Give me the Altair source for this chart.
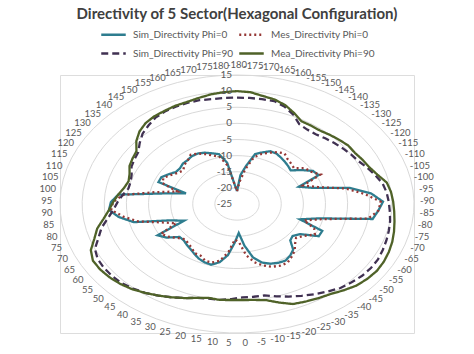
import altair as alt
import pandas as pd

categories = list(range(-180, 181, 5))

sim_phi0 = [-21, -16, -13, -9, -8, -7, -7, -7.5, -8, -8.5, -9, -7, -5, -4.5, -10, -7, 1, 5.5, 8, 7, 6,
            -6, -10, -4, -4, -8, -9, -8.5, -6, -5, -4.3, -4.5, -5, -6, -8, -12, -16, -13, -9, -6.5, -5.3,
            -5.5, -6, -6.8, -7.5, -8, -8.5, -8.5, -6, -4.6, -12, -9, -1, 2, 4, 3.5, 2, -8, -13, -6, -6,
            -7, -8, -8, -7.5, -7.4, -7, -7, -7.5, -8.3, -9, -12, -19]
mes_phi0 = [-21, -18, -14, -10, -8.5, -7.5, -6.5, -6, -7, -7.5, -8, -6, -5.5, -4, -9, -6, 0, 4, 7.5, 7, 5,
            -5, -9, -6, -5, -7, -8, -7, -5.5, -4.5, -3.5, -3.5, -4, -5, -6.5, -9, -13, -14, -10, -7, -6,
            -6, -7, -7, -8, -8.5, -9, -8, -6.5, -5.5, -10, -7, -2, 1, 3.5, 3, 1, -6, -11, -7, -6.5,
            -7.5, -8.5, -9, -8, -7.5, -6.5, -7, -8, -9, -10, -13, -19]
sim_phi90 = [8, 8, 8, 8, 7, 5.5, 3.5, 3, 3, 3.5, 4, 4.5, 5, 5.5, 6.5, 7.5, 8.5, 9, 9.3, 9.6, 10,
             10.3, 10.6, 10.9, 11.2, 11.2, 11, 10.5, 10, 9, 8, 7, 6, 5, 4, 4, 4, 4.5, 5, 5, 5.5,
             6.5, 7.5, 8.5, 9.5, 10.2, 10.8, 11, 11, 10.8, 10, 8, 6.5, 4.5, 3, 2, 1, 0, 0, 0.5, 1.5,
             2, 2.5, 4, 5.5, 6.5, 7.5, 8, 8.2, 8.3, 8.3, 8, 8]
mea_phi90 = [10, 9.8, 9, 8.5, 7.5, 6, 4.5, 4.5, 4.5, 5, 5.5, 6, 6, 6.5, 7, 8, 9.5, 10, 10.3, 10.6, 11,
             11.5, 12, 12.4, 12.7, 12.8, 12.5, 12, 11, 10, 9.5, 9, 8.5, 7, 5.5, 5, 4.8, 4.8, 5, 4.8, 5.5,
             6.5, 7.5, 8.5, 9.5, 10.5, 11.2, 11.7, 12, 12, 11, 9, 7.5, 5.5, 4, 3, 2, 1, 0.5, 1, 2,
             2.5, 3, 5, 6.5, 7.5, 8, 8.2, 8.5, 8.6, 9, 9.5, 9.8]

series_names = ["Sim_Directivity Phi=0", "Mes_Directivity Phi=0",
                "Sim_Directivity Phi=90", "Mea_Directivity Phi=90"]
series_colors = ["#2E7D8F", "#953735", "#403152", "#4F6228"]
series_dash = [[1, 0], [2, 3], [7, 4], [1, 0]]

ring_levels = [-20, -15, -10, -5, 0, 5, 10, 15]
radial_labels = [15, 10, 5, 0, -5, -10, -15, -20, -25]
r_min, r_max = -25, 15
N = len(categories)

rows = []
for name, vals in zip(series_names, [sim_phi0, mes_phi0, sim_phi90, mea_phi90]):
    for k in range(N + 1):
        j = k % N
        rows.append({"series": name, "order": k, "idx": j, "value": vals[j]})
lines_df = pd.DataFrame(rows)

ring_rows = []
for lv in ring_levels:
    for k in range(N + 1):
        ring_rows.append({"level": lv, "order": k, "idx": k % N, "value": lv})
rings_df = pd.DataFrame(ring_rows)

cat_df = pd.DataFrame({"idx": list(range(N)), "cat": [str(c) for c in categories]})
rad_df = pd.DataFrame({"value": radial_labels, "label": [str(v) for v in radial_labels]})

theta = f"2*PI*datum.idx/{N}"
tnorm = f"(datum.value-({r_min}))/({r_max}-({r_min}))"

xs = alt.Scale(domain=[-1, 1], nice=False, zero=False)
ys = alt.Scale(domain=[-1, 1], nice=False, zero=False)
X = alt.X("x:Q", scale=xs, axis=None)
Y = alt.Y("y:Q", scale=ys, axis=None)

rings = alt.Chart(rings_df).transform_calculate(
    x=f"{tnorm}*sin({theta})", y=f"{tnorm}*cos({theta})"
).mark_line(color="#D9D9D9", strokeWidth=1).encode(
    x=X, y=Y, detail="level:N", order="order:Q"
)

legend = alt.Legend(
    title=None, orient="none", legendX=40, legendY=-54, columns=2, direction="horizontal",
    symbolType="stroke", symbolSize=600, symbolStrokeWidth=2.5, labelFontSize=10,
    labelColor="#595959", labelFont="Lato", columnPadding=0, rowPadding=-9.5, labelOffset=6,
    padding=0
)

lines = alt.Chart(lines_df).transform_calculate(
    x=f"{tnorm}*sin({theta})", y=f"{tnorm}*cos({theta})"
).mark_line(strokeWidth=2.3).encode(
    x=X, y=Y,
    color=alt.Color("series:N", scale=alt.Scale(domain=series_names, range=series_colors), legend=legend),
    strokeDash=alt.StrokeDash("series:N", scale=alt.Scale(domain=series_names, range=series_dash), legend=legend),
    order="order:Q",
)

cat_labels = alt.Chart(cat_df).transform_calculate(
    x=f"1.075*sin({theta})", y=f"1.075*cos({theta})"
).mark_text(fontSize=9.5, font="Lato", color="#595959", align="center", baseline="middle").encode(
    x=X, y=Y, text="cat:N"
)

rad_labels = alt.Chart(rad_df).transform_calculate(
    x="0", y=f"{tnorm}"
).mark_text(fontSize=10, font="Lato", color="#595959", align="right", baseline="middle", dx=-5).encode(
    x=X, y=Y, text="label:N"
)

chart = alt.layer(rings, lines, rad_labels, cat_labels).properties(
    width=354, height=258,
    autosize=alt.AutoSizeParams(type="none"),
    padding={"left": 60, "top": 75, "right": 60, "bottom": 21},
    title=alt.TitleParams(
        "Directivity of 5 Sector(Hexagonal Configuration)", fontSize=15, font="Lato",
        fontWeight="bold", color="#404040", anchor="middle", offset=-1
    ),
).configure_view(stroke=None).configure(background="white")

chart.save("out.html", embed_options={"renderer": "svg", "actions": False})
